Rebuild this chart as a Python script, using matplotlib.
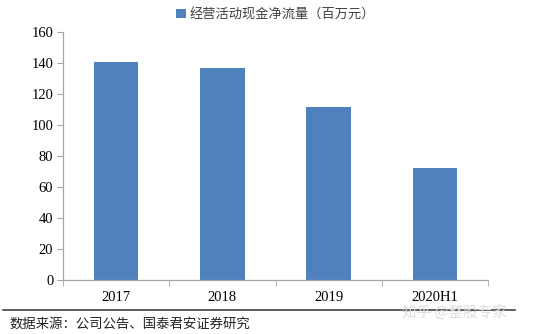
import matplotlib
matplotlib.use("Agg")
import matplotlib.pyplot as plt
from matplotlib.lines import Line2D

# data
categories = ['2017', '2018', '2019', '2020H1']
cash_flow = [140.5, 136.8, 111.7, 72.3]
series_name = '经营活动现金净流量（百万元）'
source_text = '数据来源：公司公告、国泰君安证券研究'
watermark = '知乎 @整股专家'

plt.rcParams['font.family'] = ['Liberation Serif', 'Noto Sans CJK SC', 'DejaVu Sans']
bar_color = '#4f81bd'
axis_color = '#a6a6a6'

fig = plt.figure(figsize=(5.48, 3.34), dpi=100)
ax = fig.add_axes([0.115, 0.162, 0.7755, 0.742])

x = range(len(categories))
ax.bar(x, cash_flow, width=0.42, color=bar_color, label=series_name, zorder=2)

ax.set_xlim(-0.5, len(categories) - 0.5)
ax.set_ylim(0, 160)
ax.set_yticks(range(0, 161, 20))
ax.set_xticks(list(x))
ax.set_xticklabels(categories)
ax.set_xticks([i - 0.5 for i in range(len(categories) + 1)], minor=True)
ax.tick_params(axis='x', which='major', length=0, pad=8, labelsize=10.5)
ax.tick_params(axis='x', which='minor', length=4, color=axis_color, direction='out')
ax.tick_params(axis='y', length=4, color=axis_color, direction='out', pad=3, labelsize=10.5)

for side in ['top', 'right']:
    ax.spines[side].set_visible(False)
for side in ['left', 'bottom']:
    ax.spines[side].set_color(axis_color)
    ax.spines[side].set_linewidth(0.9)

leg = ax.legend(loc='center', bbox_to_anchor=(0.5, 1.07), frameon=False,
                handlelength=0.75, handleheight=0.75, handletextpad=0.3,
                prop={'family': ['Noto Sans CJK SC'], 'size': 9.5})
for t in leg.get_texts():
    t.set_color('#404040')

# bottom rule and source note
fig.add_artist(Line2D([0.005, 0.94], [0.072, 0.072], color='#333333', lw=1.1))
fig.text(0.018, 0.03, source_text, fontsize=9.6, family=['Noto Sans CJK SC'],
         color='#222222', va='center', ha='left')
fig.text(0.83, 0.066, watermark, fontsize=10.5, family=['Noto Sans CJK SC'],
         color='#dddddd', va='center', ha='center')

fig.savefig('out.png', dpi=100)
